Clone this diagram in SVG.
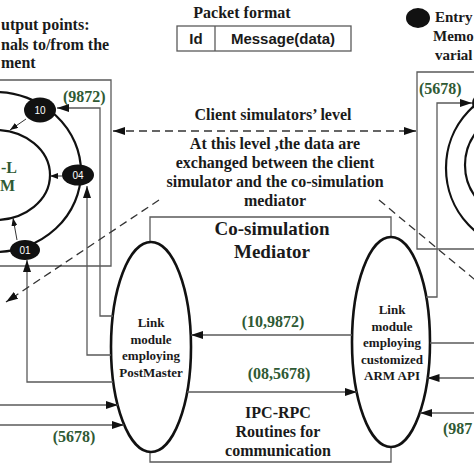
<svg xmlns="http://www.w3.org/2000/svg" width="474" height="474" viewBox="0 0 474 474">
<style>
.t{font-family:"Liberation Serif","Times New Roman",serif;font-weight:bold;fill:#1a1a1a;font-size:16px}
.g{font-family:"Liberation Serif","Times New Roman",serif;font-weight:bold;fill:#2f5a34;font-size:16px}
.s{font-family:"Liberation Sans",Arial,sans-serif;font-weight:bold;fill:#1a1a1a;font-size:15px}
.e{font-family:"Liberation Serif","Times New Roman",serif;font-weight:bold;fill:#1a1a1a;font-size:13px;text-anchor:middle}
.nl{font-family:"Liberation Sans",Arial,sans-serif;fill:#fff;font-size:10px;text-anchor:middle}
.lg{font-size:15px}
.frame{fill:none;stroke:#5a5a5a;stroke-width:1.3}
.ring{fill:none;stroke:#111;stroke-width:2.2}
.node{fill:#111}
.link{fill:#fff;stroke:#111;stroke-width:2.6}
.c{fill:none;stroke:#5a5a5a;stroke-width:1.3}
.ca{fill:none;stroke:#5a5a5a;stroke-width:1.3;marker-end:url(#ah)}
.sa{fill:none;stroke:#333;stroke-width:1;marker-end:url(#sah)}
.d{fill:none;stroke:#333;stroke-width:1.3;stroke-dasharray:8 5}
</style>
<defs>
<marker id="ah" viewBox="0 0 12 8" refX="12" refY="4" markerWidth="12" markerHeight="8" orient="auto-start-reverse" markerUnits="userSpaceOnUse"><path d="M0,0 L12,4 L0,8 z" fill="#111"/></marker>
<marker id="sah" viewBox="0 0 8 6" refX="8" refY="3" markerWidth="8" markerHeight="6" orient="auto" markerUnits="userSpaceOnUse"><path d="M0,0 L8,3 L0,6 z" fill="#111"/></marker>
</defs>
<rect width="474" height="474" fill="#fff"/>

<g id="title-left">
<text class="t" x="1" y="30">utput points:</text>
<text class="t" x="1" y="50">nals to/from the</text>
<text class="t" x="1" y="68">ment</text>
</g>

<g id="packet-format">
<text class="t" x="242" y="18" text-anchor="middle">Packet format</text>
<rect x="177" y="26" width="174" height="25" class="frame" stroke="#222"/>
<line x1="215" y1="26" x2="215" y2="51" class="frame"/>
<text class="s" x="196" y="44" text-anchor="middle">Id</text>
<text class="s" x="283" y="44" text-anchor="middle">Message(data)</text>
</g>

<g id="legend">
<ellipse cx="418" cy="18" rx="12" ry="10" class="node"/>
<text class="t lg" x="435" y="22">Entry</text>
<text class="t lg" x="433" y="41">Memo</text>
<text class="t lg" x="435" y="60">varial</text>
</g>

<g id="left-simulator">
<path d="M-2,80 H111 V266 H-2" class="frame"/>
<ellipse cx="-5" cy="172" rx="86" ry="80" class="ring"/>
<ellipse cx="-5" cy="175" rx="55" ry="45" class="ring"/>
<text class="g" x="17" y="173" text-anchor="end">-L</text>
<text class="g" x="15" y="191" text-anchor="end">M</text>
<g id="node-10"><ellipse cx="40" cy="110" rx="16" ry="12.5" class="node"/><text class="nl" x="40" y="114">10</text></g>
<g id="node-04"><ellipse cx="78" cy="175" rx="16" ry="10.5" class="node"/><text class="nl" x="78" y="179">04</text></g>
<g id="node-01"><ellipse cx="25" cy="250" rx="15" ry="10" class="node"/><text class="nl" x="25" y="254">01</text></g>
<path d="M26,119 L10,130" class="sa"/>
<path d="M62,176 L50,176" class="sa"/>
<path d="M17,240 L13,218" class="sa"/>
</g>

<g id="right-simulator">
<path d="M476,72 H417 V249 H476" class="frame"/>
<ellipse cx="522" cy="168" rx="76" ry="80" class="ring"/>
<ellipse cx="522" cy="165" rx="57" ry="55" class="ring"/>
<ellipse cx="487" cy="103" rx="15" ry="11" class="node"/>
<text class="g" x="419" y="94">(5678)</text>
</g>

<g id="level-text">
<text class="t" x="273" y="120" text-anchor="middle">Client simulators’ level</text>
<text class="t" x="275" y="149" text-anchor="middle">At this level ,the data are</text>
<text class="t" x="275" y="168" text-anchor="middle">exchanged between the client</text>
<text class="t" x="275" y="187" text-anchor="middle">simulator and the co-simulation</text>
<text class="t" x="275" y="206" text-anchor="middle">mediator</text>
</g>

<g id="mediator">
<path d="M150,243 V217 H391 V238" class="frame"/>
<path d="M150,452 V462 H391 V447" class="frame"/>
<text class="t" x="272" y="235" text-anchor="middle" style="font-size:19px">Co-simulation</text>
<text class="t" x="272" y="258" text-anchor="middle" style="font-size:19px">Mediator</text>
<text class="t" x="278" y="418" text-anchor="middle">IPC-RPC</text>
<text class="t" x="278" y="437" text-anchor="middle">Routines for</text>
<text class="t" x="278" y="456" text-anchor="middle">communication</text>
</g>

<g id="link-postmaster">
<ellipse cx="151" cy="347" rx="40" ry="105" class="link"/>
<text class="e" x="151" y="327">Link</text>
<text class="e" x="151" y="343.5">module</text>
<text class="e" x="151" y="360">employing</text>
<text class="e" x="151" y="376.5">PostMaster</text>
</g>

<g id="link-arm">
<ellipse cx="391" cy="342" rx="39" ry="105" class="link"/>
<text class="e" x="392" y="314">Link</text>
<text class="e" x="392" y="331">module</text>
<text class="e" x="392" y="347">employing</text>
<text class="e" x="392" y="364">customized</text>
<text class="e" x="392" y="380">ARM API</text>
</g>

<g id="connectors">
<path d="M352,335 H191" class="ca"/>
<path d="M187,392 H357" class="ca"/>
<path d="M113,316 H100 V108 H57" class="ca"/>
<path d="M111,355 H87 V186" class="ca"/>
<path d="M113,382 H27 V260" class="ca"/>
<path d="M-2,405 H118" class="ca"/>
<path d="M-2,425 H124" class="ca"/>
<path d="M426,297 H437 V103 H472" class="ca"/>
<path d="M430,343 H476" class="c"/>
<path d="M476,378 H427.5" class="ca"/>
<path d="M476,413 H420" class="ca"/>
<path d="M113,131 H416" class="d" marker-start="url(#ah)" marker-end="url(#ah)"/>
<path d="M159,200 L6,302" class="d" marker-end="url(#ah)"/>
<path d="M379,200 L480,284" class="d"/>
</g>

<g id="connector-labels">
<text class="g" x="63" y="102">(9872)</text>
<text class="g" x="273" y="327" text-anchor="middle">(10,9872)</text>
<text class="g" x="279" y="379" text-anchor="middle">(08,5678)</text>
<text class="g" x="74" y="442" text-anchor="middle">(5678)</text>
<text class="g" x="443" y="434">(987</text>
</g>
</svg>
